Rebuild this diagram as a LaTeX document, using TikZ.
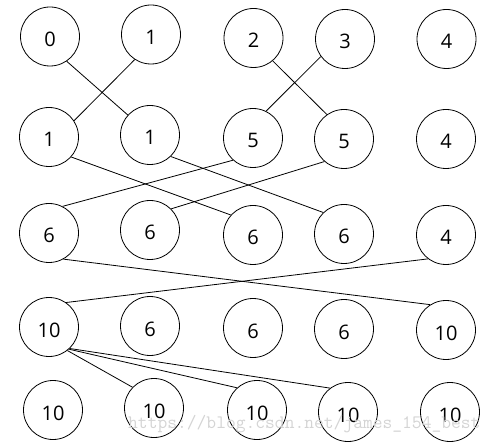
\documentclass[tikz,border=0pt]{standalone}
\usepackage{fontspec}
\setmainfont{Open Sans}
\begin{document}
\begin{tikzpicture}[x=1pt,y=-1pt,
  circ/.style={draw,circle,line width=0.8pt,minimum size=59pt,inner sep=0pt,
    font=\fontsize{20}{20}\selectfont,text height=20pt,text depth=0pt},
  edge/.style={line width=0.8pt}]
\useasboundingbox (0,0) rectangle (500,443);
% row 1
\node[circ] (r1a) at (50,36.5) {0};
\node[circ] (r1b) at (151,34.5) {1};
\node[circ] (r1c) at (253.5,38) {2};
\node[circ] (r1d) at (345,39) {3};
\node[circ] (r1e) at (446.5,39) {4};
% row 2
\node[circ] (r2a) at (49,137) {1};
\node[circ] (r2b) at (150,135) {1};
\node[circ] (r2c) at (253,138) {5};
\node[circ] (r2d) at (344,139) {5};
\node[circ] (r2e) at (446,139) {4};
% row 3
\node[circ] (r3a) at (49,233) {6};
\node[circ] (r3b) at (150,230) {6};
\node[circ] (r3c) at (253,235) {6};
\node[circ] (r3d) at (344,234) {6};
\node[circ] (r3e) at (446,235) {4};
% row 4
\node[circ] (r4a) at (49,327) {10};
\node[circ] (r4b) at (150,326) {6};
\node[circ] (r4c) at (253,328) {6};
\node[circ] (r4d) at (344,329) {6};
\node[circ] (r4e) at (446,330) {10};
% row 5
\node[circ] (r5a) at (53,410) {10};
\node[circ] (r5b) at (154,408) {10};
\node[circ] (r5c) at (257,410) {10};
\node[circ] (r5d) at (348,412) {10};
\node[circ] (r5e) at (450,412) {10};
% edges
\draw[edge] (r1a.-56) -- (r2b.138);
\draw[edge] (r1b.-123) -- (r2a.33);
\draw[edge] (r1c.-50) -- (r2d.125);
\draw[edge] (r1d.216) -- (r2c.64);
\draw[edge] (r2a.-42) -- (r3c.138);
\draw[edge] (r2b.-46) -- (r3d.134);
\draw[edge] (r2c.228) -- (r3a.63);
\draw[edge] (r2d.229) -- (r3b.45);
\draw[edge] (r3a.-61) -- (r4e.122);
\draw[edge] (r3e.233) -- (r4a.55);
\draw[edge] (r4a.-52) -- (r5b.136);
\draw[edge] (r4a.-48) -- (r5c.132);
\draw[edge] (r4a.-46) -- (r5d.127);
% watermark
\node[anchor=base west,inner sep=0pt,text=black!17,font=\ttfamily\fontsize{19}{19}\selectfont] (wm) at (128,428) {https://blog.csdn.net/james\_154\_best};
\end{tikzpicture}
\end{document}
